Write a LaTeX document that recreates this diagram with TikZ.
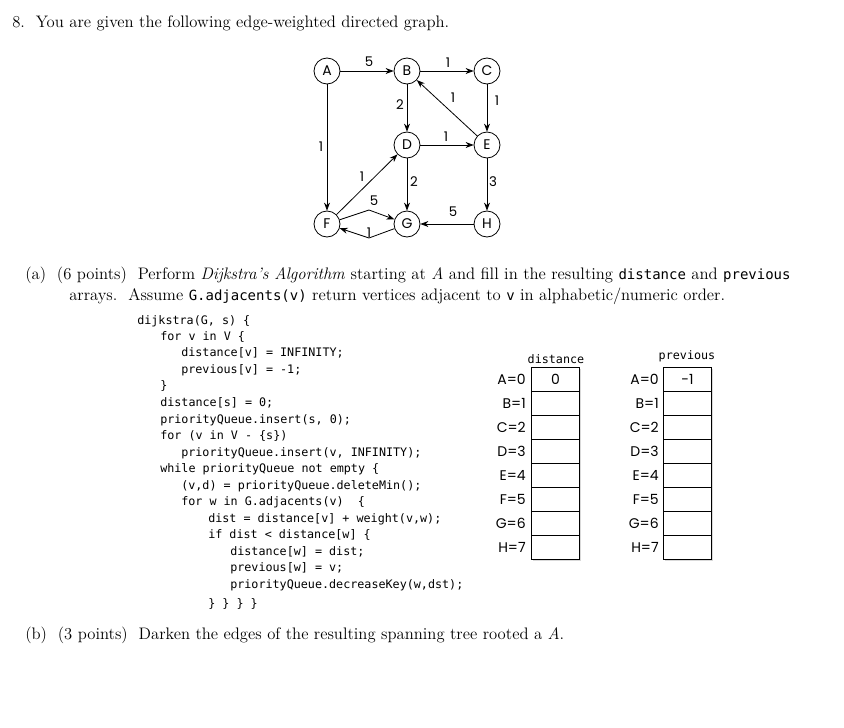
\documentclass[tikz,border=0pt]{standalone}
\usepackage{fontspec}
\usetikzlibrary{arrows.meta,shadows}
\newfontfamily\gfont{Poppins}
\setmonofont{DejaVu Sans Mono}
\begin{document}
\begin{tikzpicture}[x=0.75pt,y=-0.75pt,
  vtx/.style={circle,draw,semithick,minimum size=19.5pt,inner sep=0pt,font=\gfont\fontsize{10.5}{11}\selectfont},
  edg/.style={draw,semithick,-{Stealth[length=6pt,width=4.5pt]}},
  wl/.style={font=\gfont\fontsize{10}{11}\selectfont,inner sep=1pt},
  txt/.style={anchor=base west,inner sep=0pt,font=\fontsize{12.5}{14}\selectfont},
  code/.style={anchor=base west,inner sep=0pt,font=\ttfamily\fontsize{8.8}{10}\selectfont},
  cell/.style={draw,thick,minimum width=36pt,minimum height=18pt,inner sep=0pt,anchor=north west,drop shadow={shadow xshift=1pt,shadow yshift=-1pt,opacity=0.3},fill=white},
  lab/.style={anchor=east,inner sep=0pt,font=\gfont\fontsize{10.5}{11}\selectfont}]
\useasboundingbox (0,0) rectangle (844,728);
\node[txt] (t1) at (12,27) {8.\ \ You are given the following edge-weighted directed graph.};
\node[vtx] (A) at (327,71) {A};
\node[vtx] (B) at (407,71) {B};
\node[vtx] (C) at (487,71) {C};
\node[vtx] (D) at (407,145) {D};
\node[vtx] (E) at (487,145) {E};
\node[vtx] (F) at (327,224) {F};
\node[vtx] (G) at (407,224) {G};
\node[vtx] (H) at (487,224) {H};
\draw[edg] (A) -- (B); \node[wl] (l1) at (369,62) {5};
\draw[edg] (B) -- (C); \node[wl] (l2) at (448,63) {1};
\draw[edg] (B) -- (D); \node[wl] (l3) at (400,105) {2};
\draw[edg] (C) -- (E); \node[wl] (l4) at (497,101) {1};
\draw[edg] (E) -- (B); \node[wl] (l5) at (453,98) {1};
\draw[edg] (D) -- (E); \node[wl] (l6) at (446,137) {1};
\draw[edg] (A) -- (F); \node[wl] (l7) at (321,147) {1};
\draw[edg] (F) -- (D); \node[wl] (l8) at (362,177) {1};
\draw[edg] (D) -- (G); \node[wl] (l9) at (414,182) {2};
\draw[edg] (E) -- (H); \node[wl] (l10) at (493,182) {3};
\draw[edg] (H) -- (G); \node[wl] (l11) at (453,212) {5};
\coordinate (fg1) at (369,210);
\coordinate (gf1) at (369,238);
\draw[edg] (F) -- (fg1) -- (G); \node[wl] (l12) at (374,201) {5};
\draw[edg] (G) -- (gf1) -- (F); \node[wl] (l13) at (369,233) {1};
\node[txt] (pa1) at (25,279) {(a)\ \ (6 points)\ \ Perform \textit{Dijkstra's Algorithm} starting at \textit{A} and fill in the resulting \texttt{\fontsize{10.5}{12}\selectfont distance} and \texttt{\fontsize{10.5}{12}\selectfont previous}};
\node[txt] (pa2) at (69,300) {arrays.\ \ Assume \texttt{\fontsize{10.5}{12}\selectfont G.adjacents(v)} return vertices adjacent to \texttt{\fontsize{10.5}{12}\selectfont v} in alphabetic/numeric order.};
\foreach \s/\x/\y in {
 {dijkstra(G, s) \{}/137/324,
 {for v in V \{}/160/340,
 {distance[v] = INFINITY;}/181/356,
 {previous[v] = -1;}/181/373,
 {\}}/160/389,
 {distance[s] = 0;}/160/406,
 {priorityQueue.insert(s, 0);}/160/423,
 {for (v in V - \{s\})}/160/439,
 {priorityQueue.insert(v, INFINITY);}/181/456,
 {while priorityQueue not empty \{}/160/472,
 {(v,d) = priorityQueue.deleteMin();}/181/489,
 {for w in G.adjacents(v) \ \{}/181/505,
 {dist = distance[v] + weight(v,w);}/208/522,
 {if dist < distance[w] \{}/208/538,
 {distance[w] = dist;}/230/555,
 {previous[w] = v;}/230/571,
 {priorityQueue.decreaseKey(w,dst);}/230/588,
 {\} \} \} \}}/208/607}
 {\node[code] at (\x,\y) {\s};}
\node[code,anchor=base] (hd) at (556,363) {distance};
\node[code,anchor=base] (hp) at (687,359) {previous};
\foreach \n/\l [count=\i from 0] in {A/A=0,B/B=1,C/C=2,D/D=3,E/E=4,F/F=5,G/G=6,H/H=7}{
  \node[cell] (d\n) at (531,367+24*\i) {};
  \node[lab] (ld\n) at (526,379+24*\i) {\l};
  \node[cell] (p\n) at (663,367+24*\i) {};
  \node[lab] (lp\n) at (659,379+24*\i) {\l};
}
\node[font=\gfont\fontsize{10.5}{11}\selectfont] (v0) at (dA) {0};
\node[font=\gfont\fontsize{10.5}{11}\selectfont] (v1) at (pA) {-1};
\node[txt] (pb) at (25,639) {(b)\ \ (3 points)\ \ Darken the edges of the resulting spanning tree rooted a \textit{A}.};
\end{tikzpicture}
\end{document}
